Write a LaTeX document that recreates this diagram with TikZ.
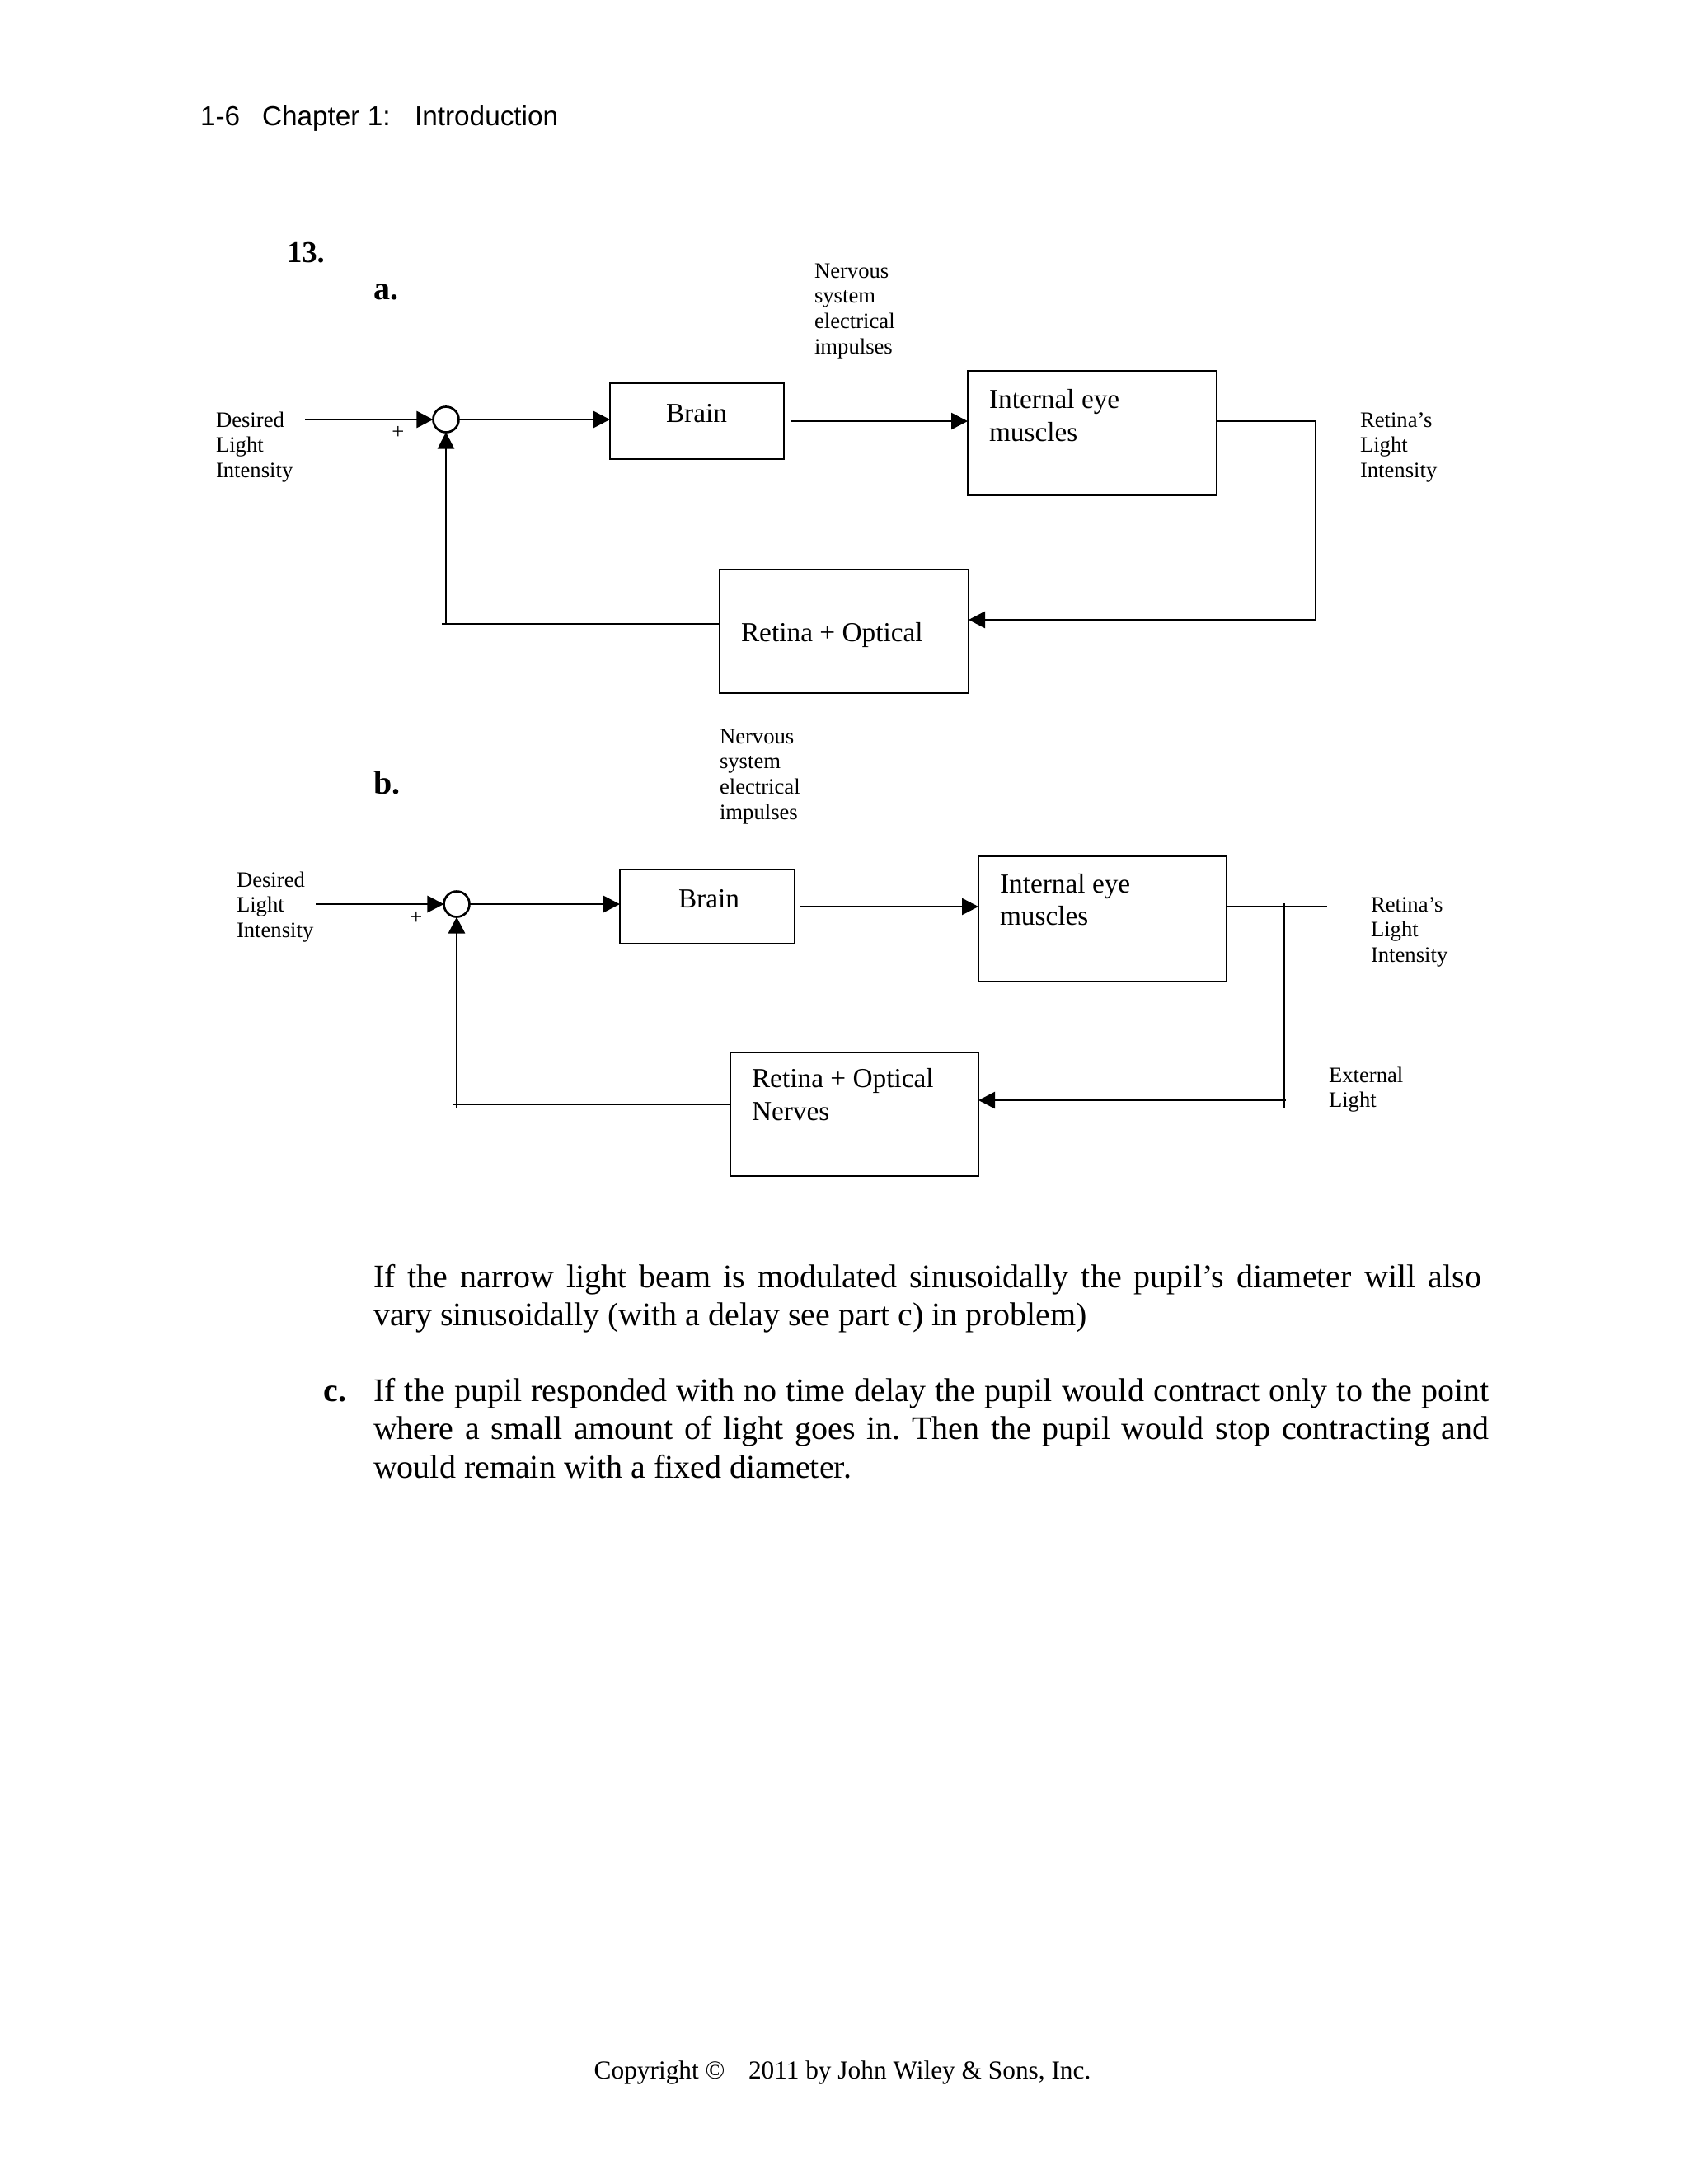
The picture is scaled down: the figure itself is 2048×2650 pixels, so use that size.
\documentclass[tikz,border=0pt]{standalone}
\usepackage{fontspec}
\setmainfont{Liberation Serif}
\newfontfamily\arialfont{Liberation Sans}
\usetikzlibrary{arrows.meta,calc,fit}
\newcommand{\vlines}[2]{\vtop{\baselineskip=#1\relax\lineskiplimit=-10pt\halign{##\hfil\cr #2\crcr}}}
\frenchspacing
\begin{document}
\begin{tikzpicture}[x=0.29995pt,y=-0.29995pt,
  every node/.style={inner sep=0pt, outer sep=0pt},
  lbl/.style={font=\fontsize{8}{9.2}\selectfont, anchor=base west},
  boxtxt/.style={font=\fontsize{10}{12}\selectfont, anchor=base west},
  bold/.style={font=\fontsize{12}{13.8}\selectfont\bfseries, anchor=base west},
  para/.style={font=\fontsize{12}{13.8}\selectfont, anchor=base west},
  hdr/.style={font=\arialfont\fontsize{10}{12}\selectfont, anchor=base west},
  ftr/.style={font=\fontsize{9.4}{11}\selectfont, anchor=base west},
  plus/.style={font=\fontsize{8}{9}\selectfont, anchor=center},
  blk/.style={draw, line width=0.8pt, rectangle, inner sep=0pt},
  sumj/.style={draw, circle, line width=0.8pt, minimum size=9.3pt},
  conn/.style={line width=0.8pt},
  arr/.style={conn, -{Triangle[length=6pt,width=6pt]}}]
\fill[white] (0,0) rectangle (2048,2650);
\useasboundingbox (0,0) rectangle (2048,2650);

% header
\node[hdr] (h1) at (243,152) {1-6};
\node[hdr] (h2) at (318,152) {Chapter 1:};
\node[hdr] (h3) at (503,152) {Introduction};

\node[bold, font=\fontsize{11}{13}\selectfont\bfseries] (n13) at (348,318) {13.};
\node[bold] (la) at (453,363) {a.};
\node[bold] (lb) at (453,963) {b.};

% ---------- diagram a ----------
\node[blk, fit={(740,465) (951,557)}] (brainA) {};
\node[blk, fit={(1174,450) (1476,601)}] (intA) {};
\node[blk, fit={(873,691) (1175,841)}] (retA) {};
\node[sumj] (sumA) at (541,509) {};

\node[boxtxt] (brainAt) at (808,512) {Brain};
\node[boxtxt] (intAt) at (1200,495) {\vlines{12pt}{Internal eye\cr muscles}};
\node[boxtxt] (retAt) at (899,778) {Retina + Optical};

\node[lbl] (nervA) at (988,337) {\vlines{9.2pt}{Nervous\cr system\cr electrical\cr impulses}};
\node[lbl] (desA) at (262,518) {\vlines{9.2pt}{Desired\cr Light\cr Intensity}};
\node[lbl] (retsA) at (1650,518) {\vlines{9.2pt}{Retina’s\cr Light\cr Intensity}};
\node[plus] (plusA) at (483,525) {+};

\coordinate (inA) at (370,509);
\coordinate (bA) at (959,511);
\coordinate (oA) at (1476,511);
\coordinate (rA1) at (1596,511);
\coordinate (rA2) at (1596,752);
\coordinate (fA) at (873,757);
\coordinate (cA0) at (536,757);
\coordinate (cA) at (541,757);

\draw[arr] (inA) -- (sumA.west);
\draw[arr] (sumA.east) -- (sumA.east -| brainA.west);
\draw[arr] (bA) -- (bA -| intA.west);
\draw[arr] (oA) -- (rA1) -- (rA2) -- (rA2 -| retA.east);
\draw[conn] (fA) -- (cA0);
\draw[arr] (cA) -- (sumA.south);

% ---------- diagram b ----------
\node[blk, fit={(752,1055) (964,1145)}] (brainB) {};
\node[blk, fit={(1187,1039) (1488,1191)}] (intB) {};
\node[blk, fit={(886,1277) (1187,1427)}] (retB) {};
\node[sumj] (sumB) at (554,1097) {};

\node[boxtxt] (brainBt) at (823,1101) {Brain};
\node[boxtxt] (intBt) at (1213,1083) {\vlines{11.8pt}{Internal eye\cr muscles}};
\node[boxtxt] (retBt) at (912,1319) {\vlines{12pt}{Retina + Optical\cr Nerves}};

\node[lbl] (nervB) at (873,902) {\vlines{9.2pt}{Nervous\cr system\cr electrical\cr impulses}};
\node[lbl] (desB) at (287,1076) {\vlines{9.2pt}{Desired\cr Light\cr Intensity}};
\node[lbl] (retsB) at (1663,1106) {\vlines{9.2pt}{Retina’s\cr Light\cr Intensity}};
\node[lbl] (extB) at (1612,1313) {\vlines{9.2pt}{External\cr Light}};
\node[plus] (plusB) at (505,1114) {+};

\coordinate (inB) at (383,1097);
\coordinate (bB) at (970,1100);
\coordinate (oB) at (1488,1100);
\coordinate (outB) at (1610,1100);
\coordinate (vB1) at (1558,1096);
\coordinate (vB2) at (1558,1344);
\coordinate (hB) at (1560,1335);
\coordinate (fB) at (886,1340);
\coordinate (cB0) at (549,1340);
\coordinate (cB) at (554,1344);

\draw[arr] (inB) -- (sumB.west);
\draw[arr] (sumB.east) -- (sumB.east -| brainB.west);
\draw[arr] (bB) -- (bB -| intB.west);
\draw[conn] (oB) -- (outB);
\draw[conn] (vB1) -- (vB2);
\draw[arr] (hB) -- (hB -| retB.east);
\draw[conn] (fB) -- (cB0);
\draw[arr] (cB) -- (sumB.south);

% ---------- text ----------
\node[para] (p1) at (453,1562.7) {\hbox to 403.1pt{If the narrow light beam is modulated sinusoidally the pupil’s diameter will also}};
\node[para] (p2) at (453,1608.7) {vary sinusoidally (with a delay see part c) in problem)};
\node[bold] (lc) at (392.7,1700.7) {c.};
\node[para] (p3) at (453,1700.7) {\hbox to 406pt{If the pupil responded with no time delay the pupil would contract only to the point}};
\node[para] (p4) at (453,1746.7) {\hbox to 406pt{where a small amount of light goes in. Then the pupil would stop contracting and}};
\node[para] (p5) at (453,1793) {would remain with a fixed diameter.};

% footer
\node[ftr] (f1) at (720.7,2522.7) {Copyright ©};
\node[ftr] (f2) at (908,2522.7) {2011 by John Wiley \& Sons, Inc.};
\end{tikzpicture}
\end{document}
